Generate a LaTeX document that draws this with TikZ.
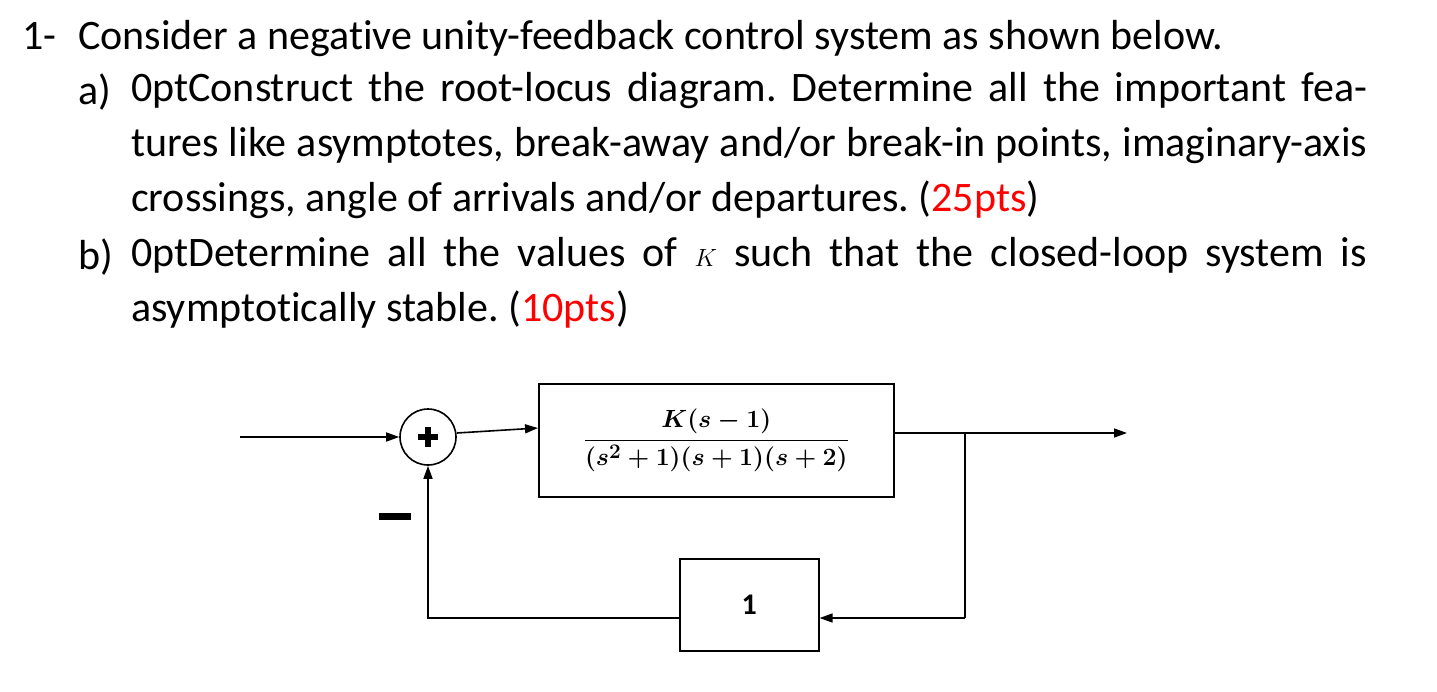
\documentclass[tikz,border=0pt]{standalone}
\usepackage{amsmath,bm}
\usepackage{fontspec}
\setmainfont{Carlito}[Ligatures=NoCommon]
\usetikzlibrary{arrows.meta}
\hyphenpenalty=10000 \exhyphenpenalty=10000 \frenchspacing
\begin{document}
\begin{tikzpicture}[x=1pt,y=-1pt,
  txt/.style={anchor=base west,inner sep=0pt,font=\fontsize{42}{55}\selectfont\frenchspacing},
  par/.style={txt,anchor=north west,text width=1236pt,align=justify,
    font=\fontsize{42}{55}\selectfont\frenchspacing\hyphenpenalty=10000\exhyphenpenalty=10000\emergencystretch=200pt},
  blk/.style={draw,line width=1.6pt},
  conn/.style={line width=1.6pt,-{Triangle[length=13pt,width=9pt]}},
  ln/.style={line width=1.6pt}]
\useasboundingbox (0,0) rectangle (1437,691);
\node[txt] (l1) at (22,49) {1-};
\node[txt] (l1b) at (78,49) {Consider a negative unity-feedback control system as shown below.};
\node[txt] (la) at (78,104) {a)};
\node[par] (pa) at (131,72) {Construct the root-locus diagram. Determine all the important features like asymptotes, break-away and/or break-in points, imaginary-axis crossings, angle of arrivals and/or departures. ({\color{red}25pts})};
\node[txt] (lb) at (78,269) {b)};
\node[par] (pb) at (131,237) {Determine all the values of $K$ such that the closed-loop system is asymptotically stable. ({\color{red}10pts})};
% block diagram
\node[blk,circle,minimum size=56pt,inner sep=0pt] (sum) at (428,437) {};
\fill (sum.center) ++(-10,-3) rectangle ++(20,6);
\fill (sum.center) ++(-3,-10) rectangle ++(6,20);
\node[blk,minimum width=355pt,minimum height=113pt,anchor=north west,inner sep=0pt,font=\fontsize{31}{36}\selectfont] (G) at (538,383) {$\displaystyle\boldsymbol{\frac{K(s-1)}{(s^2+1)(s+1)(s+2)}}$};
\node[blk,minimum width=139pt,minimum height=92pt,anchor=north west,font=\fontsize{30}{34}\selectfont\bfseries] (H) at (679,558) {1};
\coordinate (in) at (240,437);
\coordinate (out) at (1127,433);
\coordinate (br) at (965,433);
\coordinate (bd) at (965,618);
\coordinate (hl) at (428,618);
\draw[conn] (in) -- (sum.west);
\draw[conn] (sum.east |- 0,433) -- (G.west |- 0,428);
\draw[conn] (G.east |- out) -- (out);
\draw[ln] (br) -- (bd);
\draw[conn] (bd) -- (H.east |- bd);
\draw[conn] (H.west |- hl) -- (hl) -- (sum.south);
\fill (379,513) rectangle (411,520);
\end{tikzpicture}
\end{document}
